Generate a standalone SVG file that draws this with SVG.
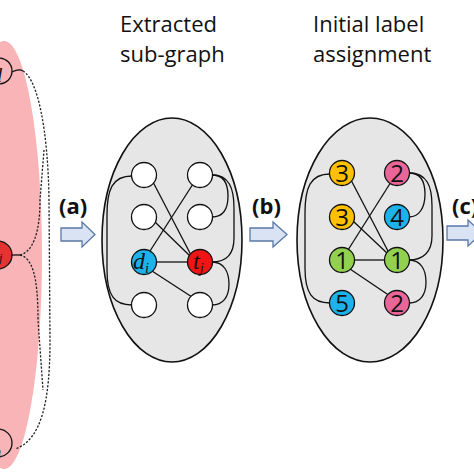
<svg xmlns="http://www.w3.org/2000/svg" width="474" height="474" viewBox="0 0 474 474">
<style>
.title{font-family:"Open Sans","Liberation Sans",sans-serif;font-size:22px;fill:#111}
.lab{font-family:"Open Sans","Liberation Sans",sans-serif;font-size:22px;font-weight:bold;fill:#111}
.num{font-family:"Open Sans","Liberation Sans",sans-serif;font-size:24px;fill:#111;text-anchor:middle}
.math{font-family:"Liberation Serif",serif;font-style:italic;fill:#111}
.node{stroke:#111;stroke-width:1.3}
.edge{fill:none;stroke:#111;stroke-width:1.3}
.dash{fill:none;stroke:#222;stroke-width:1.3;stroke-dasharray:2.2 1.6}
.big{fill:#e6e6e6;stroke:#111;stroke-width:1.6}
.arrow{fill:#d9e3f3;stroke:#5a78a8;stroke-width:1.3}
</style>

<!-- left pink panel -->
<g id="left-panel">
<ellipse cx="4" cy="255" rx="38" ry="214" fill="#f8b4b6"/>
</g>
<g id="left-connectors">
<path class="edge" d="M12 72 C16 70 20 69 23 71"/>
<path class="dash" d="M23 71 C38 80 48 130 49 200 L50 340 C50 400 42 440 15 449"/>
<path class="edge" d="M12 255 L20 255"/>
<path class="dash" d="M20 255 C32 252 40 235 40 200 L44 150"/>
<path class="dash" d="M20 255 C32 258 38 275 38 320 L43 390"/>
</g>
<g id="left-node-top">
<circle class="node" cx="-1" cy="71" r="13" fill="none"/>
<text class="math" x="-8" y="82" font-size="20">d</text>
</g>
<g id="left-node-mid">
<circle class="node" cx="-2" cy="255" r="14" fill="#e63232"/>
<text class="math" x="-1" y="262" font-size="12">j</text>
</g>
<g id="left-node-bottom">
<circle class="node" cx="-2" cy="443" r="14" fill="none"/>
<text class="math" x="-5" y="456" font-size="12">n</text>
</g>

<!-- titles -->
<g id="title-1">
<text class="title" x="120" y="32">Extracted</text>
<text class="title" x="120" y="62">sub-graph</text>
</g>
<g id="title-2">
<text class="title" x="313" y="32">Initial label</text>
<text class="title" x="313" y="62">assignment</text>
</g>

<!-- step arrows -->
<g id="step-a">
<text class="lab" x="59" y="214">(a)</text>
<path class="arrow" d="M61 228 L82 228 L82 222 L95 234.5 L82 247 L82 241 L61 241 Z"/>
</g>
<g id="step-b">
<text class="lab" x="252" y="214">(b)</text>
<path class="arrow" d="M250 228 L273 228 L273 222 L287 234.5 L273 247 L273 241 L250 241 Z"/>
</g>
<g id="step-c">
<text class="lab" x="452" y="214">(c)</text>
<path class="arrow" d="M447 226 L468 226 L468 220 L482 233 L468 246 L468 240 L447 240 Z"/>
</g>

<!-- sub-graph 1 -->
<g id="subgraph-1">
<ellipse class="big" cx="172" cy="240" rx="70" ry="122"/>
</g>
<g id="connectors-1">
<path class="edge" d="M153 182 L191 255"/>
<path class="edge" d="M155 222 L190 256"/>
<path class="edge" d="M150 251 L193 184"/>
<path class="edge" d="M156 262 L188 262"/>
<path class="edge" d="M152 271 L192 297"/>
<path class="edge" d="M132 176 C112 176 107 190 107 215 L107 270 C107 295 114 305 132 305"/>
<path class="edge" d="M212 175 C224 175 228 184 228 196 C228 210 222 217 212 217"/>
<path class="edge" d="M212 175 C229 175 234 188 234 208 L234 238 C234 254 226 262 212 262"/>
<path class="edge" d="M212 262 C224 262 229 272 229 284 C229 297 223 305 212 305"/>
</g>
<g id="n1-l1"><circle class="node" cx="144" cy="175" r="12.5" fill="#fff"/></g>
<g id="n1-l2"><circle class="node" cx="144" cy="217" r="12.5" fill="#fff"/></g>
<g id="n1-d"><circle class="node" cx="144" cy="262" r="12.5" fill="#1eb2ea"/>
<text class="math" x="133" y="269" font-size="24">d<tspan font-size="14" dy="4">i</tspan></text></g>
<g id="n1-l4"><circle class="node" cx="144" cy="305" r="12.5" fill="#fff"/></g>
<g id="n1-r1"><circle class="node" cx="200" cy="175" r="12.5" fill="#fff"/></g>
<g id="n1-r2"><circle class="node" cx="200" cy="217" r="12.5" fill="#fff"/></g>
<g id="n1-t"><circle class="node" cx="200" cy="262" r="12.5" fill="#f01414"/>
<text class="math" x="193" y="269" font-size="24">t<tspan font-size="14" dy="4">j</tspan></text></g>
<g id="n1-r4"><circle class="node" cx="200" cy="305" r="12.5" fill="#fff"/></g>

<!-- sub-graph 2 -->
<g id="subgraph-2">
<ellipse class="big" cx="370" cy="240" rx="73" ry="122"/>
</g>
<g id="connectors-2">
<path class="edge" d="M351 180 L389 253"/>
<path class="edge" d="M353 221 L388 254"/>
<path class="edge" d="M348 250 L391 182"/>
<path class="edge" d="M354 260 L385 260"/>
<path class="edge" d="M350 269 L390 296"/>
<path class="edge" d="M330 174 C310 174 305 188 305 213 L305 268 C305 293 312 303 330 303"/>
<path class="edge" d="M409 173 C421 173 425 182 425 194 C425 208 419 217 409 217"/>
<path class="edge" d="M409 173 C427 173 432 186 432 206 L432 236 C432 252 423 260 409 260"/>
<path class="edge" d="M409 260 C421 260 426 270 426 282 C426 295 420 303 409 303"/>
</g>
<g id="n2-l1"><circle class="node" cx="342" cy="173" r="12.5" fill="#ffc000"/><text class="num" x="342" y="181.5">3</text></g>
<g id="n2-l2"><circle class="node" cx="342" cy="217" r="12.5" fill="#ffc000"/><text class="num" x="342" y="225.5">3</text></g>
<g id="n2-l3"><circle class="node" cx="342" cy="260" r="12.5" fill="#92d050"/><text class="num" x="342" y="268.5">1</text></g>
<g id="n2-l4"><circle class="node" cx="342" cy="303" r="12.5" fill="#1eb2ea"/><text class="num" x="342" y="311.5">5</text></g>
<g id="n2-r1"><circle class="node" cx="397" cy="173" r="12.5" fill="#ea6699"/><text class="num" x="397" y="181.5">2</text></g>
<g id="n2-r2"><circle class="node" cx="397" cy="217" r="12.5" fill="#1eb2ea"/><text class="num" x="397" y="225.5">4</text></g>
<g id="n2-r3"><circle class="node" cx="397" cy="260" r="12.5" fill="#92d050"/><text class="num" x="397" y="268.5">1</text></g>
<g id="n2-r4"><circle class="node" cx="397" cy="303" r="12.5" fill="#ea6699"/><text class="num" x="397" y="311.5">2</text></g>
</svg>
